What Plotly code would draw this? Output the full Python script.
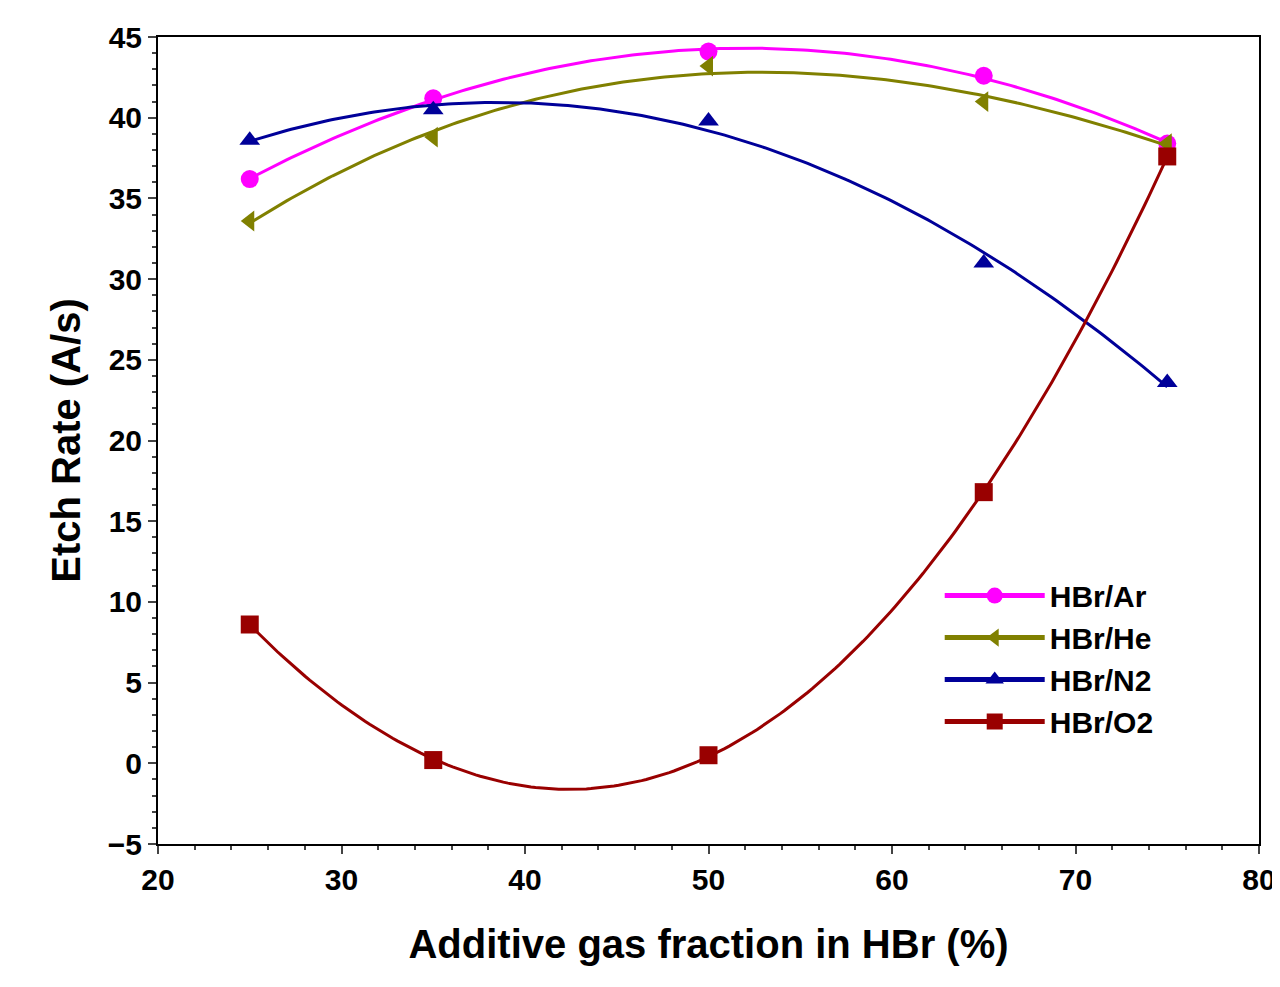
import numpy as np
import plotly.graph_objects as go

x = [25, 35, 50, 65, 75]
ar = [36.2, 41.2, 44.1, 42.6, 38.4]
he = [33.6, 38.8, 43.2, 41.0, 38.4]
n2 = [38.6, 40.5, 39.8, 31.0, 23.6]
o2 = [8.6, 0.2, 0.5, 16.8, 37.6]

series = [
    ('HBr/Ar', ar, '#FF00FF', 'circle', 2),
    ('HBr/He', he, '#808000', 'triangle-left', 3),
    ('HBr/N2', n2, '#000099', 'triangle-up', 2),
    ('HBr/O2', o2, '#990000', 'square', 3),
]

fig = go.Figure()
xf = np.linspace(25, 75, 200)
for name, y, col, sym, deg in series:
    # smooth polynomial fit line, like the original
    yf = np.polyval(np.polyfit(x, y, deg), xf)
    fig.add_trace(go.Scatter(x=xf, y=yf, mode='lines', line=dict(color=col, width=3),
                             showlegend=False, hoverinfo='skip'))
    fig.add_trace(go.Scatter(x=[None], y=[None], mode='lines+markers', name='<b>' + name + '</b>',
                             line=dict(color=col, width=5),
                             marker=dict(symbol=sym, size=16, color=col)))
    fig.add_trace(go.Scatter(x=x, y=y, mode='markers', showlegend=False,
                             marker=dict(symbol=sym, size=18, color=col)))

axis_font = dict(family='Liberation Sans', size=30, color='black')
title_font = dict(family='Liberation Sans', size=40, color='black')
common = dict(showline=True, linecolor='black', linewidth=2, mirror=True,
              ticks='outside', ticklen=8, tickwidth=2, showgrid=False, zeroline=False,
              tickfont=axis_font, tickprefix='<b>', ticksuffix='</b>',
              minor=dict(ticks='outside', ticklen=4, tickwidth=2))
fig.update_xaxes(range=[20, 80], dtick=10,
                 title=dict(text='<b>Additive gas fraction in HBr (%)</b>', font=title_font, standoff=35),
                 **common)
fig.update_yaxes(range=[-5, 45], dtick=5,
                 title=dict(text='<b>Etch Rate (A/s)</b>', font=title_font, standoff=15),
                 **common)
fig.update_layout(
    width=1280, height=987, plot_bgcolor='white', paper_bgcolor='white',
    margin=dict(l=150, r=28, t=24, b=151),
    font=dict(family='Liberation Sans', size=30, color='black'),
    legend=dict(x=0.71, y=0.34, xanchor='left', yanchor='top',
                font=dict(size=30, family='Liberation Sans', color='black'),
                bgcolor='rgba(0,0,0,0)', itemwidth=100, tracegroupgap=12),
)
fig.write_html("out.html")
